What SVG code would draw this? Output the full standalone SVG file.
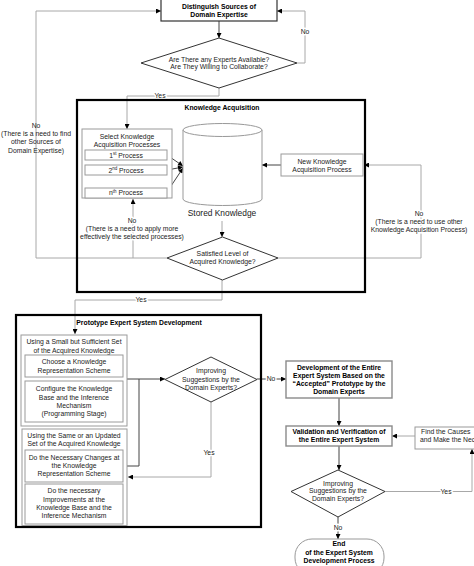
<svg xmlns="http://www.w3.org/2000/svg" width="474" height="566" viewBox="0 0 474 566">
<defs>
<marker id="ah" viewBox="0 0 10 10" refX="10" refY="5" markerWidth="6" markerHeight="5" orient="auto" markerUnits="userSpaceOnUse"><path d="M0,0 L10,5 L0,10 z" fill="#000"/></marker>
<style>
text{font-family:"Liberation Sans",Arial,sans-serif;font-size:6.8px;fill:#222;text-anchor:middle}
.b{font-weight:bold;fill:#000}
.lbl{paint-order:stroke;stroke:#fff;stroke-width:3px;stroke-linejoin:round}
.big{font-size:8.4px}
.grp{fill:none;stroke:#000;stroke-width:2.2}
.box{fill:#fff;stroke:#9a9a9a;stroke-width:1}
.box2{fill:#fff;stroke:#8a8a8a;stroke-width:1.4}
.dia{fill:#fff;stroke:#333;stroke-width:1}
.c{fill:none;stroke:#a8a8a8;stroke-width:1}
.cd{fill:none;stroke:#444;stroke-width:1}
.a{marker-end:url(#ah)}
sup{font-size:4.5px}
</style>
</defs>
<rect width="474" height="566" fill="#fff"/>

<g id="connectors">
<path class="cd a" d="M219,21 V38"/>
<path class="c a" d="M297,63 H305 V11 H277"/>
<path class="c a" d="M219,88 V96 H127 V129"/>
<path class="c a" d="M167,258 H36 V11 H161"/>
<path class="c a" d="M133,258 V199"/>
<path class="cd a" d="M167,155 L183,166"/>
<path class="cd a" d="M167,170 L183,167"/>
<path class="cd a" d="M167,192 L183,168"/>
<path class="cd a" d="M281,165 H262"/>
<path class="c a" d="M278,258 H421 V165 H364"/>
<path class="c a" d="M222,221 V237"/>
<path class="c a" d="M222,280 V300 H75 V334"/>
<path class="cd a" d="M127,379 H165"/>
<path class="cd" d="M127,466 H139 V379"/>
<path class="c a" d="M211,402 V477 H128"/>
<path class="cd a" d="M257,379 H286"/>
<path class="cd a" d="M339,398 V426"/>
<path class="c a" d="M415,436 H392"/>
<path class="cd a" d="M339,446 V470"/>
<path class="c a" d="M385,491.5 H472 V449"/>
<path class="cd a" d="M338,517 V539"/>
<text class="lbl" x="305" y="34.4">No</text>
<text class="lbl" x="160" y="98.4">Yes</text>
<text x="36" y="127.5">No</text>
<text x="36" y="135.8">(There is a need to find</text>
<text x="36" y="144.2">other Sources of</text>
<text x="36" y="152.5">Domain Expertise)</text>
<text class="lbl" x="132" y="222.5">No</text>
<text class="lbl" x="132" y="230.8">(There is a need to apply more</text>
<text class="lbl" x="132" y="239.2">effectively the selected processes)</text>
<text class="lbl" x="419" y="215.5">No</text>
<text class="lbl" x="419" y="223.8">(There is a need to use other</text>
<text class="lbl" x="419" y="232.1">Knowledge Acquisition Process)</text>
<text class="lbl" x="141" y="302.4">Yes</text>
<text class="lbl" x="209" y="455.2">Yes</text>
<text class="lbl" x="271" y="381.4">No</text>
<text class="lbl" x="446" y="494">Yes</text>
<text class="lbl" x="338" y="529.6">No</text>
</g>

<g id="distinguish">
<rect x="161" y="-2" width="116" height="23" fill="#fff" stroke="#333" stroke-width="1.2"/>
<text class="b" x="219" y="8.5">Distinguish Sources of</text>
<text class="b" x="219" y="17.3">Domain Expertise</text>
</g>

<g id="experts-available">
<polygon class="dia" points="219,38 297,63 219,88 141,63"/>
<text x="219" y="61.7">Are There any Experts Available?</text>
<text x="219" y="69.2">Are They Willing to Collaborate?</text>
</g>

<g id="knowledge-acquisition">
<rect class="grp" x="77" y="100" width="288" height="192"/>
<text class="b" x="222" y="110">Knowledge Acquisition</text>
</g>

<g id="select-processes">
<rect class="box" x="82" y="129" width="90" height="69"/>
<text x="127" y="138.5">Select Knowledge</text>
<text x="127" y="146.5">Acquisition Processes</text>
<rect class="box" x="85" y="150" width="82" height="10"/>
<text x="126" y="157.5">1<tspan font-size="4.5" dy="-2.5">st</tspan><tspan dy="2.5"> Process</tspan></text>
<rect class="box" x="85" y="165" width="82" height="10"/>
<text x="126" y="172.5">2<tspan font-size="4.5" dy="-2.5">nd</tspan><tspan dy="2.5"> Process</tspan></text>
<rect class="box" x="85" y="188" width="82" height="10"/>
<text x="126" y="195.3">n<tspan font-size="4.5" dy="-2.5">th</tspan><tspan dy="2.5"> Process</tspan></text>
</g>

<g id="stored-knowledge">
<path d="M183,130 V199 A39.5,6.5 0 0 0 262,199 V130" fill="#fff" stroke="#999" stroke-width="1"/>
<ellipse cx="222.5" cy="130" rx="39.5" ry="6.5" fill="#fff" stroke="#999" stroke-width="1"/>
<text class="big" x="222" y="216">Stored Knowledge</text>
</g>

<g id="new-process">
<rect class="box" x="281" y="154" width="82" height="22"/>
<text x="322" y="163.5">New Knowledge</text>
<text x="322" y="171.5">Acquisition Process</text>
</g>

<g id="satisfied">
<polygon class="dia" points="222.5,237 278,258 222.5,280 167,258"/>
<text x="222.5" y="255.5">Satisfied Level of</text>
<text x="222.5" y="264.3">Acquired Knowledge?</text>
</g>

<g id="prototype">
<rect class="grp" x="16" y="315" width="245" height="212"/>
<text class="b" x="139" y="325.3">Prototype Expert System Development</text>
</g>

<g id="small-set">
<rect class="box" x="21" y="335" width="106" height="91"/>
<text x="74" y="344.2">Using a Small but Sufficient Set</text>
<text x="74" y="352.6">of the Acquired Knowledge</text>
<rect class="box" x="25" y="355" width="98" height="22"/>
<text x="74" y="363.5">Choose a Knowledge</text>
<text x="74" y="372.5">Representation Scheme</text>
<rect class="box" x="25" y="381" width="98" height="41"/>
<text x="74" y="391.4">Configure the Knowledge</text>
<text x="74" y="399.8">Base and the Inference</text>
<text x="74" y="408.1">Mechanism</text>
<text x="74" y="415.8">(Programming Stage)</text>
</g>

<g id="updated-set">
<rect class="box" x="22" y="429" width="105" height="96.5"/>
<text x="74" y="438.1">Using the Same or an Updated</text>
<text x="74" y="446.4">Set of the Acquired Knowledge</text>
<rect class="box" x="25" y="450" width="98" height="32"/>
<text x="74" y="459.7">Do the Necessary Changes at</text>
<text x="74" y="468.2">the Knowledge</text>
<text x="74" y="476.4">Representation Scheme</text>
<rect class="box" x="25" y="484" width="98" height="40"/>
<text x="74" y="493.4">Do the necessary</text>
<text x="74" y="501.7">Improvements at the</text>
<text x="74" y="510.1">Knowledge Base and the</text>
<text x="74" y="518.4">Inference Mechanism</text>
</g>

<g id="improving-1">
<polygon class="dia" points="211,357 257,379.5 211,402 165,379.5"/>
<text x="211" y="373.3">Improving</text>
<text x="211" y="381.7">Suggestions by the</text>
<text x="211" y="389.6">Domain Experts?</text>
</g>

<g id="development">
<rect class="box2" x="286" y="361" width="106" height="37"/>
<text class="b" x="339" y="369.7">Development of the Entire</text>
<text class="b" x="339" y="378">Expert System Based on the</text>
<text class="b" x="339" y="385.8">“Accepted” Prototype by the</text>
<text class="b" x="339" y="394">Domain Experts</text>
</g>

<g id="validation">
<rect class="box2" x="286" y="426" width="106" height="20"/>
<text class="b" x="339" y="434">Validation and Verification of</text>
<text class="b" x="339" y="441.7">the Entire Expert System</text>
</g>

<g id="find-causes">
<rect class="box" x="415" y="427" width="70" height="22"/>
<text x="421" y="434" style="text-anchor:start">Find the Causes</text>
<text x="420" y="441.6" style="text-anchor:start">and Make the Necessary Changes</text>
</g>

<g id="improving-2">
<polygon class="dia" points="338,470 385,491.5 338,517 291,491.5"/>
<text x="338" y="485.7">Improving</text>
<text x="338" y="493.4">Suggestions by the</text>
<text x="338" y="501.4">Domain Experts?</text>
</g>

<g id="end">
<rect x="295" y="539" width="89" height="36" rx="17" fill="#fff" stroke="#999" stroke-width="1"/>
<text class="b" x="339" y="546.4">End</text>
<text class="b" x="339" y="555">of the Expert System</text>
<text class="b" x="339" y="562.5">Development Process</text>
</g>
</svg>
